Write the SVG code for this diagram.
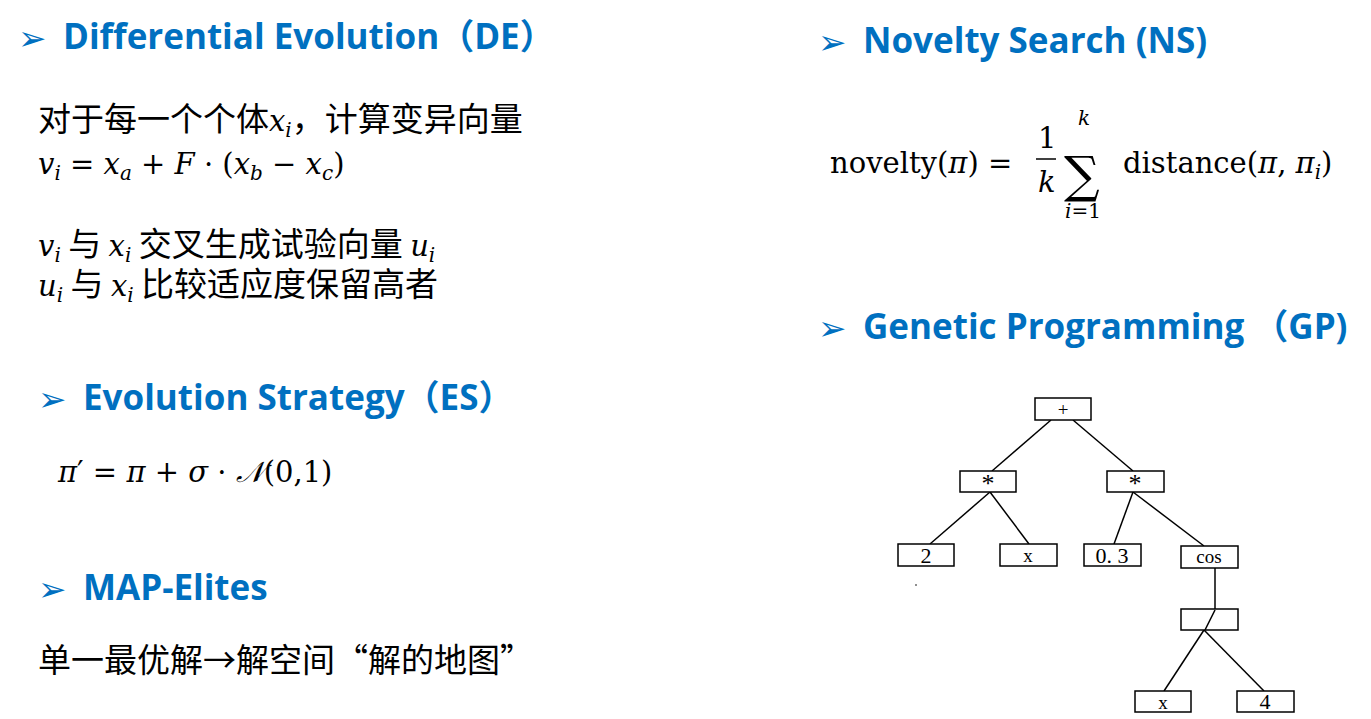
<svg xmlns="http://www.w3.org/2000/svg" width="1371" height="719" viewBox="0 0 1371 719">
<style>
.h{font-family:"Open Sans","Noto Sans CJK SC",sans-serif;font-weight:bold;font-size:35px;fill:#0070C0}
.ar{font-family:"DejaVu Sans",sans-serif;font-size:34px;fill:#0070C0}
.t{font-family:"Noto Sans CJK SC",sans-serif;font-size:33px;fill:#000}
.m{font-family:"DejaVu Serif",serif;font-size:29px;fill:#000}
.i{font-style:italic}
.s{font-size:20px}
.n rect{fill:#fff;stroke:#000;stroke-width:1.5}
.n text{font-family:"Liberation Serif",serif;font-size:19px;text-anchor:middle}
.e line{stroke:#000;stroke-width:1.5}
</style>
<g id="headings">
<text class="ar" x="18" y="50">➢</text><text class="h" x="63" y="49">Differential Evolution（DE）</text>
<text class="ar" x="38" y="411">➢</text><text class="h" x="83" y="410">Evolution Strategy（ES）</text>
<text class="ar" x="38" y="601">➢</text><text class="h" x="83" y="600">MAP-Elites</text>
<text class="ar" x="818" y="54">➢</text><text class="h" x="863" y="53">Novelty Search (NS)</text>
<text class="ar" x="818" y="340">➢</text><text class="h" x="863" y="339">Genetic Programming （GP)</text>
</g>
<g id="de">
<text class="t" x="38" y="131">对于每一个个体<tspan class="m i">x</tspan><tspan class="m i s" dy="6">i</tspan><tspan dy="-6">，计算变异向量</tspan></text>
<text class="m" x="38" y="174"><tspan class="i">v</tspan><tspan class="i s" dy="6">i</tspan><tspan dy="-6"> = </tspan><tspan class="i">x</tspan><tspan class="i s" dy="6">a</tspan><tspan dy="-6"> + </tspan><tspan class="i">F</tspan> · (<tspan class="i">x</tspan><tspan class="i s" dy="6">b</tspan><tspan dy="-6"> − </tspan><tspan class="i">x</tspan><tspan class="i s" dy="6">c</tspan><tspan dy="-6">)</tspan></text>
<text class="t" x="38" y="256"><tspan class="m i">v</tspan><tspan class="m i s" dy="6">i</tspan><tspan dy="-6"> 与 </tspan><tspan class="m i">x</tspan><tspan class="m i s" dy="6">i</tspan><tspan dy="-6"> 交叉生成试验向量 </tspan><tspan class="m i">u</tspan><tspan class="m i s" dy="6">i</tspan></text>
<text class="t" x="38" y="296"><tspan class="m i">u</tspan><tspan class="m i s" dy="6">i</tspan><tspan dy="-6"> 与 </tspan><tspan class="m i">x</tspan><tspan class="m i s" dy="6">i</tspan><tspan dy="-6"> 比较适应度保留高者</tspan></text>
</g>
<g id="es">
<text class="m" x="58" y="482"><tspan class="i">π</tspan>′ = <tspan class="i">π</tspan> + <tspan class="i">σ</tspan> · <tspan class="i">𝒩</tspan>(0,1)</text>
</g>
<g id="map">
<text class="t" x="38" y="672">单一最优解→解空间“解的地图”</text>
</g>
<g id="ns">
<text class="m" x="830" y="173">novelty(<tspan class="i">π</tspan>) =</text>
<text class="m" x="1038" y="148">1</text>
<line x1="1036" y1="159" x2="1056" y2="159" stroke="#000" stroke-width="1.5"/>
<text class="m i" x="1038" y="192">k</text>
<text class="m" x="1064" y="192" style="font-size:50px">∑</text>
<text class="m i s" x="1078" y="125">k</text>
<text class="m s" x="1065" y="218"><tspan class="i">i</tspan>=1</text>
<text class="m" x="1123" y="173">distance(<tspan class="i">π</tspan>, <tspan class="i">π</tspan><tspan class="i s" dy="6">i</tspan><tspan dy="-6">)</tspan></text>
</g>
<g id="connectors" class="e">
<line x1="1051" y1="420" x2="992" y2="471"/>
<line x1="1073" y1="420" x2="1133" y2="471"/>
<line x1="990" y1="492" x2="930" y2="544"/>
<line x1="990" y1="492" x2="1029" y2="544"/>
<line x1="1133" y1="492" x2="1114" y2="544"/>
<line x1="1133" y1="492" x2="1204" y2="546"/>
<line x1="1215" y1="568" x2="1215" y2="609"/>
<line x1="1204" y1="630" x2="1164" y2="691"/>
<line x1="1204" y1="630" x2="1264" y2="691"/>
</g>
<g id="n-plus" class="n"><rect x="1035" y="398" width="56" height="22"/><text x="1063" y="416">+</text></g>
<g id="n-mul1" class="n"><rect x="960" y="471" width="56" height="21"/><text x="988" y="492" style="font-size:26px">*</text></g>
<g id="n-mul2" class="n"><rect x="1107" y="471" width="57" height="21"/><text x="1135" y="492" style="font-size:26px">*</text></g>
<g id="n-2" class="n"><rect x="898" y="544" width="56" height="22"/><text x="926" y="563" style="font-size:22px">2</text></g>
<g id="n-x1" class="n"><rect x="1000" y="544" width="57" height="22"/><text x="1028" y="562">x</text></g>
<g id="n-03" class="n"><rect x="1084" y="544" width="57" height="22"/><text x="1112" y="563" style="font-size:22px">0. 3</text></g>
<g id="n-cos" class="n"><rect x="1181" y="546" width="57" height="22"/><text x="1209" y="563">cos</text></g>
<g id="n-div" class="n"><rect x="1181" y="609" width="57" height="21"/><line x1="1215" y1="610" x2="1205" y2="630" stroke="#000" stroke-width="1.5"/></g>
<g id="n-x2" class="n"><rect x="1135" y="691" width="56" height="21"/><text x="1163" y="709">x</text></g>
<g id="n-4" class="n"><rect x="1237" y="691" width="57" height="21"/><text x="1265" y="709" style="font-size:22px">4</text></g>
<circle cx="916" cy="585" r="0.8" fill="#000"/>
</svg>
